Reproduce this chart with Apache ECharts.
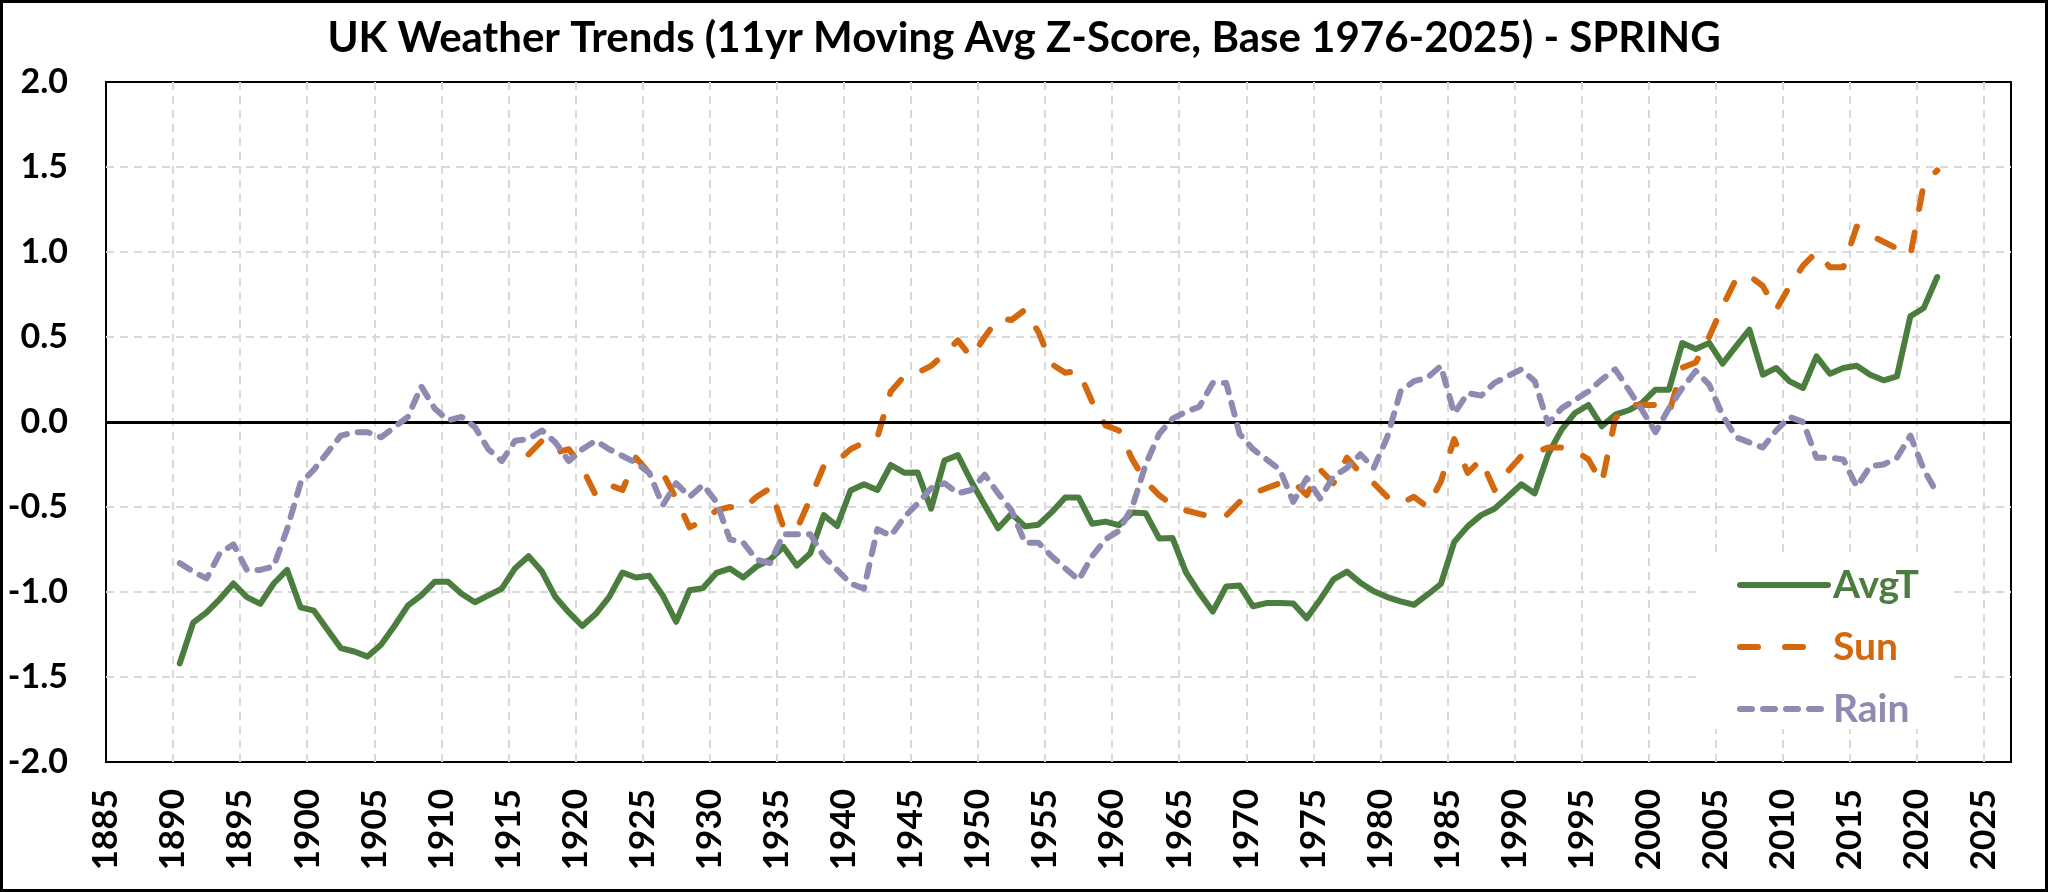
<!DOCTYPE html>
<html>
<head>
<meta charset="utf-8">
<title>UK Weather Trends - Spring</title>
<script src="https://cdn.jsdelivr.net/npm/echarts@6/dist/echarts.min.js"></script>
<style>
  html, body { margin: 0; padding: 0; background: #fff; }
  #chart { width: 2048px; height: 892px; }
</style>
</head>
<body>
<div id="chart"></div>
<script>
// 11yr moving-average z-scores, one value per year
const firstYear = 1890;
const sunFirstYear = 1916;

const avgT = [
  -1.42, -1.18, -1.12, -1.04, -0.95, -1.03, -1.07, -0.95, -0.87, -1.09,
  -1.11, -1.22, -1.33, -1.35, -1.38, -1.31, -1.20, -1.08, -1.02, -0.94,
  -0.94, -1.01, -1.06, -1.02, -0.98, -0.86, -0.79, -0.88, -1.03, -1.12,
  -1.20, -1.13, -1.03, -0.885, -0.915, -0.905, -1.02, -1.175, -0.99, -0.977,
  -0.888, -0.862, -0.915, -0.849, -0.81, -0.735, -0.845, -0.772, -0.548, -0.612,
  -0.403, -0.366, -0.40, -0.253, -0.298, -0.297, -0.51, -0.226, -0.195, -0.35,
  -0.49, -0.625, -0.54, -0.614, -0.604, -0.53, -0.444, -0.444, -0.598, -0.586,
  -0.607, -0.533, -0.537, -0.685, -0.683, -0.884, -1.006, -1.115, -0.967, -0.962,
  -1.084, -1.065, -1.065, -1.067, -1.155, -1.045, -0.926, -0.88, -0.945, -0.996,
  -1.03, -1.055, -1.075, -1.016, -0.953, -0.705, -0.614, -0.548, -0.51, -0.44,
  -0.366, -0.42, -0.19, -0.045, 0.053, 0.10, -0.025, 0.043, 0.069, 0.112,
  0.19, 0.19, 0.465, 0.43, 0.465, 0.343, 0.445, 0.543, 0.278, 0.318,
  0.239, 0.20, 0.386, 0.284, 0.318, 0.331, 0.278, 0.245, 0.269, 0.622,
  0.671, 0.853
];

const sun = [
  -0.19, -0.11, -0.18, -0.16,
  -0.27, -0.43, -0.37, -0.40, -0.21, -0.30, -0.30, -0.45, -0.62, -0.58,
  -0.52, -0.50, -0.51, -0.44, -0.39, -0.62, -0.63, -0.45, -0.26, -0.23,
  -0.16, -0.12, -0.09, 0.18, 0.27, 0.29, 0.33, 0.40, 0.48, 0.38,
  0.50, 0.61, 0.60, 0.66, 0.53, 0.34, 0.29, 0.30, 0.12, -0.02,
  -0.05, -0.22, -0.35, -0.43, -0.49, -0.52, -0.54, -0.56, -0.55, -0.47,
  -0.42, -0.39, -0.36, -0.35, -0.43, -0.28, -0.36, -0.21, -0.30, -0.36,
  -0.44, -0.48, -0.44, -0.50, -0.35, -0.10, -0.30, -0.22, -0.40, -0.29,
  -0.20, -0.18, -0.15, -0.15, -0.17, -0.22, -0.36, 0.02, 0.10, 0.10,
  0.10, 0.05, 0.32, 0.35, 0.50, 0.68, 0.84, 0.86, 0.80, 0.66,
  0.80, 0.92, 1.00, 0.91, 0.91, 1.15, 1.10, 1.06, 1.02, 0.98,
  1.40, 1.48
];

const rain = [
  -0.83, -0.88, -0.92, -0.77, -0.72, -0.87, -0.87, -0.85, -0.63, -0.36,
  -0.28, -0.18, -0.08, -0.06, -0.06, -0.09, -0.03, 0.03, 0.21, 0.08,
  0.01, 0.03, -0.03, -0.16, -0.23, -0.11, -0.10, -0.05, -0.12, -0.23,
  -0.16, -0.11, -0.16, -0.20, -0.24, -0.30, -0.49, -0.36, -0.44, -0.37,
  -0.47, -0.69, -0.71, -0.81, -0.83, -0.66, -0.66, -0.66, -0.79, -0.87,
  -0.95, -0.98, -0.63, -0.67, -0.56, -0.48, -0.39, -0.36, -0.42, -0.40,
  -0.31, -0.42, -0.52, -0.71, -0.71, -0.79, -0.86, -0.93, -0.79, -0.69,
  -0.64, -0.50, -0.25, -0.07, 0.02, 0.06, 0.09, 0.23, 0.23, -0.07,
  -0.16, -0.22, -0.28, -0.47, -0.33, -0.45, -0.32, -0.27, -0.19, -0.27,
  -0.09, 0.18, 0.24, 0.26, 0.33, 0.05, 0.17, 0.155, 0.23, 0.27,
  0.31, 0.24, -0.01, 0.08, 0.13, 0.18, 0.25, 0.31, 0.19, 0.07,
  -0.06, 0.08, 0.20, 0.30, 0.22, 0.04, -0.09, -0.12, -0.15, -0.05,
  0.03, 0.00, -0.21, -0.21, -0.22, -0.38, -0.26, -0.25, -0.21, -0.08,
  -0.28, -0.42
];

const xTicks = { min: 1885, max: 2027, step: 5 };
const yTicks = { min: -2, max: 2, step: 0.5 };

const colors = { avgT: '#4B7E3E', sun: '#D4680F', rain: '#8E8AB2' };
const font = 'Lato, "Open Sans", "Noto Sans", sans-serif';
const gridDash = { color: '#D9D9D9', width: 2, type: [8, 6] };

// each value is drawn at mid-year
function toPoints(values, startYear) {
  return values.map(function (v, i) { return [startYear + i + 0.5, v]; });
}

const chart = echarts.init(document.getElementById('chart'));
chart.setOption({
  backgroundColor: '#fff',
  animation: false,
  title: {
    text: 'UK Weather Trends (11yr Moving Avg Z-Score, Base 1976-2025) - SPRING',
    left: 'center',
    top: 12,
    textStyle: { fontFamily: font, fontWeight: 'bold', fontSize: 42, color: '#000' }
  },
  grid: {
    left: 106, top: 82, right: 37, bottom: 130,
    show: true, borderColor: '#000', borderWidth: 2
  },
  legend: {
    orient: 'vertical',
    left: 1699,
    top: 553,
    padding: [12, 30, 0, 38],
    backgroundColor: '#fff',
    itemWidth: 88,
    itemHeight: 16,
    itemGap: 22,
    itemStyle: { color: 'transparent', borderWidth: 0 },
    lineStyle: { width: 6 },
    textStyle: { fontFamily: font, fontSize: 39, fontWeight: 'bold', lineHeight: 40 },
    data: [
      { name: 'AvgT', textStyle: { color: colors.avgT } },
      { name: 'Sun', textStyle: { color: colors.sun }, lineStyle: { type: [18, 27] } },
      { name: 'Rain', textStyle: { color: colors.rain } }
    ]
  },
  xAxis: {
    type: 'value',
    min: xTicks.min, max: xTicks.max, interval: xTicks.step,
    axisLine: { show: false },
    axisTick: { show: false },
    axisLabel: {
      rotate: 90, margin: 27, showMaxLabel: false,
      fontFamily: font, fontSize: 35, fontWeight: 'bold', color: '#000',
      padding: [22, 0, 0, 0],
      formatter: function (v) { return String(v); }
    },
    splitLine: { show: true, showMinLine: false, showMaxLine: false, lineStyle: gridDash }
  },
  yAxis: {
    type: 'value',
    min: yTicks.min, max: yTicks.max, interval: yTicks.step,
    axisLine: { show: false },
    axisTick: { show: false },
    axisLabel: {
      margin: 38, fontFamily: font, fontSize: 34, fontWeight: 'bold', color: '#000',
      formatter: function (v) { return v.toFixed(1); }
    },
    splitLine: { show: true, showMinLine: false, showMaxLine: false, lineStyle: gridDash }
  },
  series: [
    {
      name: 'AvgT', type: 'line', symbol: 'none', z: 3,
      data: toPoints(avgT, firstYear),
      lineStyle: { color: colors.avgT, width: 6, cap: 'round', join: 'round' },
      itemStyle: { color: colors.avgT },
      markLine: {
        silent: true, symbol: 'none', label: { show: false },
        lineStyle: { color: '#000', width: 3, type: 'solid' },
        data: [{ yAxis: 0 }]
      }
    },
    {
      name: 'Sun', type: 'line', symbol: 'none', z: 4,
      data: toPoints(sun, sunFirstYear),
      lineStyle: { color: colors.sun, width: 6, type: [18, 24], cap: 'round', join: 'round' },
      itemStyle: { color: colors.sun }
    },
    {
      name: 'Rain', type: 'line', symbol: 'none', z: 5,
      data: toPoints(rain, firstYear),
      lineStyle: { color: colors.rain, width: 6, type: [12, 11], cap: 'round', join: 'round' },
      itemStyle: { color: colors.rain }
    }
  ],
  graphic: [{
    type: 'rect', silent: true, z: 100,
    shape: { x: 1.5, y: 1.5, width: 2045, height: 889 },
    style: { fill: null, stroke: '#000', lineWidth: 3 }
  }]
});
</script>
</body>
</html>
